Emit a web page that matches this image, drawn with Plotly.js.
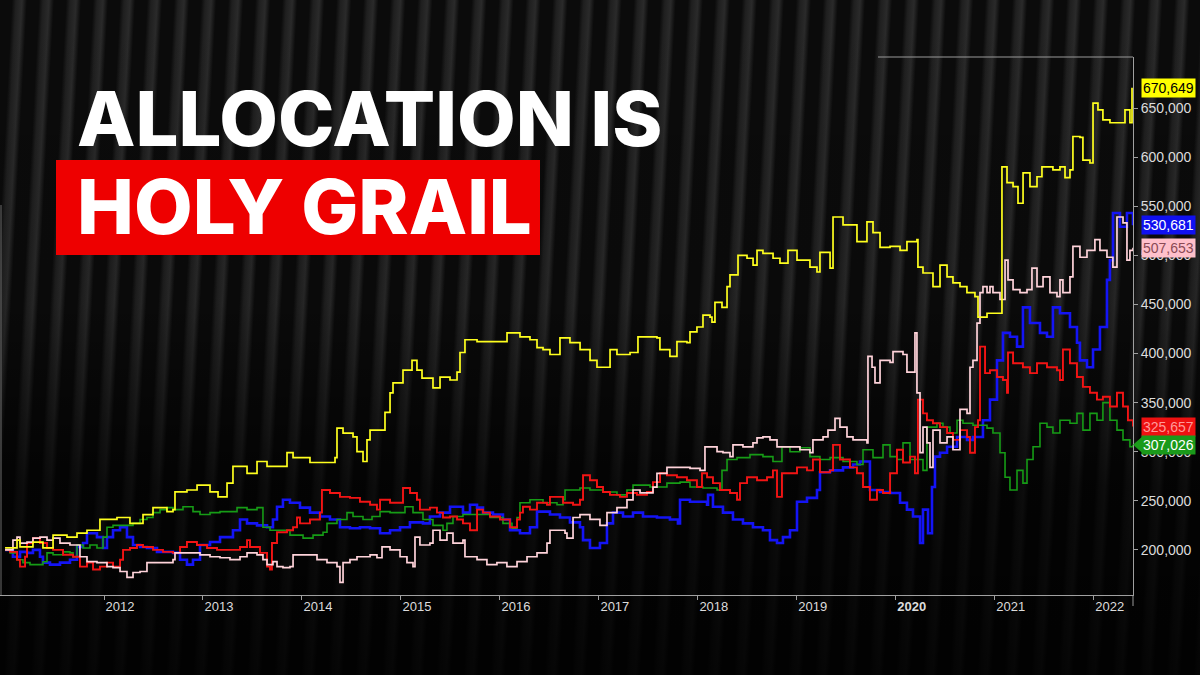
<!DOCTYPE html>
<html>
<head>
<meta charset="utf-8">
<script src="https://cdn.plot.ly/plotly-3.0.1.min.js"></script>
<style>
  html, body { margin: 0; padding: 0; background: #080808; }
  #wrap {
    width: 1200px; height: 675px; position: relative; overflow: hidden;
    background:
      linear-gradient(180deg, rgba(0,0,0,0) 0%, rgba(0,0,0,0.1) 45%, rgba(0,0,0,0.7) 72%, rgba(0,0,0,0.85) 100%),
      repeating-linear-gradient(93deg, #0b0b0b 0px, #0b0b0b 12px, #1f1f1f 16px, #2a2a2a 22px, #0b0b0b 27px);
  }
  #chart { width: 1200px; height: 675px; position: absolute; left: 0; top: 0; }
</style>
</head>
<body>
<div id="wrap"><div id="chart"></div></div>
<script>
// ---------- DATA ----------
const yellowYears = [
  2011.000, 2011.121, 2011.151, 2011.282, 2011.383, 2011.485, 2011.626, 2011.727, 2011.828, 2011.959,
  2012.131, 2012.262, 2012.394, 2012.495, 2012.636, 2012.697, 2012.717, 2012.838, 2012.940, 2013.071,
  2013.152, 2013.243, 2013.303, 2013.445, 2013.546, 2013.647, 2013.778, 2013.849, 2013.910, 2014.081,
  2014.283, 2014.334, 2014.354, 2014.415, 2014.516, 2014.556, 2014.617, 2014.657, 2014.688, 2014.809,
  2014.839, 2014.890, 2014.920, 2015.021, 2015.112, 2015.162, 2015.213, 2015.324, 2015.395, 2015.496,
  2015.567, 2015.597, 2015.647, 2015.769, 2015.900, 2016.072, 2016.203, 2016.304, 2016.375, 2016.436,
  2016.506, 2016.607, 2016.708, 2016.810, 2016.911, 2016.981, 2017.113, 2017.183, 2017.315, 2017.395,
  2017.587, 2017.617, 2017.718, 2017.789, 2017.890, 2017.921, 2017.991, 2018.052, 2018.123, 2018.143,
  2018.173, 2018.244, 2018.295, 2018.325, 2018.396, 2018.406, 2018.497, 2018.558, 2018.598, 2018.658,
  2018.760, 2018.830, 2018.911, 2019.002, 2019.133, 2019.204, 2019.234, 2019.336, 2019.366, 2019.467,
  2019.568, 2019.608, 2019.709, 2019.770, 2019.841, 2019.942, 2020.043, 2020.113, 2020.214, 2020.224,
  2020.275, 2020.376, 2020.447, 2020.518, 2020.578, 2020.649, 2020.719, 2020.800, 2020.831, 2020.922,
  2021.053, 2021.073, 2021.124, 2021.185, 2021.235, 2021.286, 2021.356, 2021.427, 2021.477, 2021.588,
  2021.659, 2021.710, 2021.760, 2021.790, 2021.861, 2021.891, 2021.962, 2021.993, 2022.043, 2022.093,
  2022.164, 2022.296, 2022.316, 2022.366, 2022.387
];
const yellowValues = [
  202000, 210000, 203000, 208000, 202000, 215000, 213000, 217000, 220000, 231000,
  233000, 227000, 236000, 243000, 239000, 241000, 259000, 261000, 266000, 259000,
  254000, 268000, 285000, 278000, 290000, 285000, 285000, 299000, 294000, 289000,
  289000, 294000, 324000, 319000, 315000, 300000, 290000, 312000, 322000, 322000,
  340000, 360000, 370000, 383000, 393000, 383000, 375000, 365000, 376000, 373000,
  381000, 401000, 414000, 412000, 412000, 421000, 417000, 414000, 406000, 404000,
  399000, 416000, 411000, 404000, 393000, 386000, 404000, 399000, 401000, 417000,
  416000, 404000, 397000, 412000, 411000, 422000, 427000, 439000, 437000, 432000,
  452000, 447000, 468000, 480000, 480000, 500000, 497000, 490000, 505000, 502000,
  497000, 492000, 505000, 495000, 488000, 483000, 503000, 487000, 539000, 531000,
  531000, 514000, 534000, 523000, 508000, 509000, 505000, 514000, 516000, 488000,
  482000, 468000, 490000, 478000, 472000, 468000, 462000, 458000, 437000, 441000,
  441000, 590000, 574000, 570000, 553000, 584000, 570000, 580000, 590000, 587000,
  590000, 579000, 587000, 621000, 620000, 597000, 594000, 655000, 648000, 638000,
  635000, 635000, 648000, 635000, 670649
];

const greenYears = [
  2011.000, 2011.050, 2011.121, 2011.181, 2011.252, 2011.323, 2011.383, 2011.424, 2011.485, 2011.586,
  2011.656, 2011.687, 2011.727, 2011.788, 2011.858, 2011.929, 2011.990, 2012.030, 2012.091, 2012.232,
  2012.293, 2012.364, 2012.434, 2012.495, 2012.566, 2012.636, 2012.697, 2012.798, 2012.899, 2012.970,
  2013.071, 2013.172, 2013.273, 2013.344, 2013.445, 2013.546, 2013.606, 2013.677, 2013.778, 2013.879,
  2014.011, 2014.112, 2014.213, 2014.253, 2014.354, 2014.455, 2014.516, 2014.617, 2014.708, 2014.789,
  2014.890, 2014.991, 2015.041, 2015.122, 2015.223, 2015.324, 2015.425, 2015.465, 2015.526, 2015.627,
  2015.769, 2015.900, 2016.031, 2016.122, 2016.173, 2016.203, 2016.304, 2016.436, 2016.577, 2016.638,
  2016.658, 2016.809, 2016.910, 2017.042, 2017.183, 2017.284, 2017.345, 2017.517, 2017.688, 2017.820,
  2017.921, 2018.052, 2018.194, 2018.244, 2018.295, 2018.396, 2018.527, 2018.658, 2018.759, 2018.850,
  2018.931, 2019.032, 2019.133, 2019.234, 2019.336, 2019.467, 2019.608, 2019.669, 2019.770, 2019.871,
  2019.942, 2020.012, 2020.073, 2020.144, 2020.245, 2020.275, 2020.315, 2020.416, 2020.477, 2020.548,
  2020.619, 2020.679, 2020.780, 2020.922, 2020.982, 2021.053, 2021.104, 2021.154, 2021.225, 2021.285,
  2021.326, 2021.387, 2021.457, 2021.528, 2021.588, 2021.659, 2021.760, 2021.831, 2021.891, 2021.962,
  2022.033, 2022.093, 2022.164, 2022.235, 2022.296, 2022.366, 2022.397
];
const greenValues = [
  200000, 197000, 190000, 187000, 185000, 185000, 188000, 197000, 195000, 198000,
  197000, 193000, 205000, 202000, 205000, 202000, 213000, 223000, 225000, 225000,
  227000, 231000, 233000, 238000, 241000, 243000, 241000, 244000, 239000, 236000,
  238000, 239000, 239000, 243000, 241000, 243000, 223000, 220000, 220000, 215000,
  212000, 215000, 218000, 227000, 231000, 238000, 234000, 231000, 234000, 239000,
  238000, 238000, 244000, 238000, 231000, 225000, 220000, 227000, 234000, 236000,
  236000, 233000, 227000, 222000, 233000, 248000, 251000, 248000, 246000, 251000,
  261000, 263000, 261000, 259000, 256000, 261000, 266000, 264000, 268000, 269000,
  264000, 263000, 261000, 281000, 292000, 294000, 297000, 295000, 290000, 305000,
  300000, 304000, 295000, 292000, 294000, 290000, 287000, 302000, 294000, 307000,
  295000, 292000, 309000, 292000, 292000, 281000, 325000, 329000, 325000, 319000,
  332000, 329000, 327000, 324000, 319000, 299000, 274000, 261000, 281000, 268000,
  292000, 305000, 329000, 325000, 319000, 332000, 329000, 339000, 322000, 339000,
  332000, 350000, 332000, 322000, 312000, 305000, 307026
];

const blueYears = [
  2011.000, 2011.080, 2011.151, 2011.222, 2011.282, 2011.353, 2011.383, 2011.454, 2011.555, 2011.656,
  2011.727, 2011.788, 2011.828, 2011.929, 2011.990, 2012.030, 2012.091, 2012.162, 2012.232, 2012.293,
  2012.364, 2012.434, 2012.535, 2012.697, 2012.768, 2012.838, 2012.899, 2012.970, 2013.071, 2013.172,
  2013.303, 2013.374, 2013.445, 2013.546, 2013.647, 2013.707, 2013.748, 2013.808, 2013.879, 2013.980,
  2014.081, 2014.182, 2014.283, 2014.384, 2014.485, 2014.586, 2014.688, 2014.789, 2014.890, 2014.991,
  2015.091, 2015.223, 2015.293, 2015.395, 2015.496, 2015.627, 2015.698, 2015.769, 2015.829, 2015.930,
  2016.031, 2016.102, 2016.203, 2016.304, 2016.375, 2016.506, 2016.607, 2016.708, 2016.809, 2016.840,
  2016.910, 2017.011, 2017.082, 2017.143, 2017.244, 2017.345, 2017.446, 2017.587, 2017.718, 2017.799,
  2017.820, 2017.921, 2018.093, 2018.103, 2018.153, 2018.254, 2018.355, 2018.456, 2018.557, 2018.658,
  2018.729, 2018.800, 2018.860, 2018.931, 2019.002, 2019.103, 2019.204, 2019.234, 2019.336, 2019.467,
  2019.568, 2019.638, 2019.739, 2019.841, 2019.942, 2020.043, 2020.113, 2020.174, 2020.245, 2020.275,
  2020.326, 2020.366, 2020.396, 2020.447, 2020.518, 2020.619, 2020.720, 2020.780, 2020.881, 2020.952,
  2021.023, 2021.083, 2021.154, 2021.225, 2021.285, 2021.356, 2021.457, 2021.528, 2021.588, 2021.659,
  2021.760, 2021.831, 2021.861, 2021.932, 2021.993, 2022.063, 2022.134, 2022.164, 2022.195, 2022.265,
  2022.336, 2022.397
];
const blueValues = [
  200000, 193000, 198000, 197000, 200000, 193000, 187000, 185000, 187000, 190000,
  203000, 207000, 217000, 213000, 202000, 213000, 220000, 223000, 213000, 205000,
  203000, 202000, 198000, 197000, 190000, 185000, 190000, 205000, 208000, 213000,
  220000, 231000, 227000, 225000, 223000, 231000, 244000, 251000, 248000, 243000,
  238000, 234000, 231000, 223000, 222000, 223000, 222000, 217000, 220000, 223000,
  228000, 227000, 234000, 238000, 244000, 238000, 246000, 243000, 238000, 236000,
  231000, 220000, 217000, 223000, 239000, 236000, 233000, 228000, 223000, 210000,
  202000, 207000, 227000, 238000, 234000, 238000, 234000, 233000, 231000, 227000,
  251000, 249000, 246000, 256000, 244000, 238000, 231000, 227000, 223000, 220000,
  210000, 207000, 213000, 220000, 249000, 253000, 261000, 279000, 281000, 284000,
  287000, 290000, 261000, 259000, 258000, 248000, 241000, 234000, 207000, 241000,
  217000, 264000, 295000, 299000, 305000, 315000, 312000, 315000, 332000, 353000,
  393000, 421000, 417000, 407000, 447000, 431000, 421000, 417000, 447000, 441000,
  427000, 411000, 393000, 386000, 404000, 427000, 475000, 495000, 543000, 529000,
  543000, 530681
];

const redYears = [
  2011.000, 2011.050, 2011.121, 2011.151, 2011.202, 2011.222, 2011.282, 2011.353, 2011.424, 2011.485,
  2011.586, 2011.687, 2011.757, 2011.828, 2011.889, 2011.959, 2012.030, 2012.091, 2012.162, 2012.192,
  2012.262, 2012.333, 2012.394, 2012.495, 2012.596, 2012.697, 2012.768, 2012.838, 2012.939, 2013.041,
  2013.142, 2013.374, 2013.445, 2013.475, 2013.576, 2013.647, 2013.677, 2013.697, 2013.748, 2013.849,
  2013.910, 2013.950, 2013.980, 2014.081, 2014.182, 2014.202, 2014.283, 2014.384, 2014.485, 2014.586,
  2014.688, 2014.758, 2014.789, 2014.890, 2014.991, 2015.021, 2015.092, 2015.162, 2015.192, 2015.293,
  2015.364, 2015.425, 2015.496, 2015.567, 2015.627, 2015.698, 2015.769, 2015.829, 2015.900, 2016.001,
  2016.102, 2016.173, 2016.203, 2016.233, 2016.304, 2016.375, 2016.476, 2016.506, 2016.577, 2016.638,
  2016.739, 2016.809, 2016.840, 2016.910, 2016.981, 2017.042, 2017.112, 2017.213, 2017.284, 2017.385,
  2017.486, 2017.547, 2017.618, 2017.688, 2017.789, 2017.890, 2017.991, 2018.042, 2018.093, 2018.153,
  2018.224, 2018.325, 2018.396, 2018.426, 2018.497, 2018.598, 2018.699, 2018.759, 2018.800, 2018.850,
  2018.931, 2019.002, 2019.103, 2019.163, 2019.234, 2019.336, 2019.366, 2019.436, 2019.537, 2019.608,
  2019.669, 2019.739, 2019.810, 2019.871, 2019.942, 2020.012, 2020.073, 2020.144, 2020.194, 2020.224,
  2020.275, 2020.315, 2020.376, 2020.447, 2020.518, 2020.578, 2020.649, 2020.720, 2020.750, 2020.800,
  2020.831, 2020.851, 2020.902, 2020.952, 2021.023, 2021.083, 2021.124, 2021.134, 2021.185, 2021.285,
  2021.356, 2021.427, 2021.528, 2021.629, 2021.659, 2021.689, 2021.760, 2021.831, 2021.891, 2021.962,
  2022.033, 2022.093, 2022.164, 2022.235, 2022.296, 2022.346, 2022.397
];
const redValues = [
  200000, 198000, 190000, 183000, 193000, 207000, 212000, 207000, 202000, 200000,
  195000, 193000, 183000, 187000, 180000, 183000, 187000, 183000, 190000, 200000,
  202000, 205000, 203000, 200000, 198000, 197000, 203000, 208000, 205000, 202000,
  200000, 203000, 210000, 203000, 197000, 183000, 180000, 207000, 218000, 220000,
  223000, 233000, 227000, 231000, 238000, 261000, 258000, 254000, 253000, 249000,
  246000, 241000, 251000, 248000, 248000, 263000, 258000, 251000, 241000, 243000,
  238000, 233000, 234000, 231000, 227000, 220000, 241000, 238000, 234000, 231000,
  223000, 231000, 238000, 244000, 241000, 248000, 246000, 254000, 254000, 248000,
  246000, 251000, 276000, 271000, 264000, 259000, 256000, 254000, 258000, 256000,
  259000, 269000, 278000, 276000, 274000, 271000, 264000, 278000, 274000, 268000,
  261000, 258000, 251000, 268000, 274000, 271000, 274000, 281000, 254000, 278000,
  278000, 284000, 281000, 292000, 279000, 281000, 307000, 292000, 284000, 278000,
  264000, 251000, 261000, 258000, 278000, 302000, 289000, 295000, 278000, 353000,
  339000, 332000, 329000, 325000, 319000, 312000, 322000, 315000, 299000, 325000,
  332000, 407000, 380000, 383000, 376000, 373000, 360000, 401000, 390000, 386000,
  380000, 390000, 386000, 383000, 373000, 404000, 390000, 376000, 366000, 360000,
  353000, 356000, 346000, 360000, 346000, 332000, 325657
];

const pinkYears = [
  2011.000, 2011.080, 2011.121, 2011.151, 2011.222, 2011.282, 2011.353, 2011.424, 2011.485, 2011.555,
  2011.656, 2011.757, 2011.828, 2011.929, 2012.030, 2012.091, 2012.162, 2012.232, 2012.293, 2012.364,
  2012.434, 2012.636, 2012.697, 2012.717, 2012.899, 2012.970, 2013.071, 2013.172, 2013.273, 2013.374,
  2013.445, 2013.546, 2013.606, 2013.647, 2013.707, 2013.748, 2013.808, 2013.879, 2013.910, 2014.011,
  2014.152, 2014.253, 2014.354, 2014.384, 2014.415, 2014.485, 2014.556, 2014.688, 2014.758, 2014.809,
  2014.890, 2014.991, 2015.061, 2015.122, 2015.142, 2015.192, 2015.293, 2015.324, 2015.395, 2015.465,
  2015.526, 2015.627, 2015.647, 2015.769, 2015.869, 2015.970, 2016.071, 2016.173, 2016.274, 2016.375,
  2016.476, 2016.506, 2016.577, 2016.658, 2016.678, 2016.739, 2016.809, 2016.910, 2017.011, 2017.082,
  2017.183, 2017.284, 2017.345, 2017.416, 2017.547, 2017.587, 2017.688, 2017.820, 2017.921, 2018.022,
  2018.072, 2018.194, 2018.254, 2018.325, 2018.355, 2018.456, 2018.557, 2018.598, 2018.658, 2018.729,
  2018.800, 2018.961, 2019.032, 2019.133, 2019.163, 2019.265, 2019.315, 2019.386, 2019.436, 2019.507,
  2019.568, 2019.638, 2019.709, 2019.719, 2019.760, 2019.790, 2019.841, 2019.942, 2019.972, 2020.073,
  2020.113, 2020.174, 2020.194, 2020.214, 2020.245, 2020.275, 2020.315, 2020.346, 2020.376, 2020.447,
  2020.518, 2020.578, 2020.649, 2020.720, 2020.750, 2020.780, 2020.821, 2020.851, 2020.881, 2020.922,
  2020.952, 2020.982, 2021.053, 2021.104, 2021.134, 2021.185, 2021.255, 2021.326, 2021.376, 2021.427,
  2021.488, 2021.558, 2021.629, 2021.659, 2021.689, 2021.760, 2021.790, 2021.861, 2021.932, 2022.012,
  2022.063, 2022.134, 2022.194, 2022.235, 2022.296, 2022.336, 2022.366, 2022.397
];
const pinkValues = [
  200000, 210000, 213000, 207000, 208000, 212000, 213000, 210000, 212000, 207000,
  205000, 193000, 188000, 187000, 183000, 182000, 178000, 172000, 177000, 178000,
  187000, 187000, 190000, 197000, 197000, 195000, 193000, 192000, 190000, 193000,
  197000, 195000, 190000, 185000, 188000, 183000, 182000, 183000, 195000, 195000,
  190000, 187000, 183000, 167000, 187000, 190000, 193000, 195000, 192000, 203000,
  200000, 193000, 187000, 183000, 213000, 205000, 207000, 220000, 210000, 217000,
  207000, 210000, 193000, 190000, 185000, 187000, 183000, 188000, 193000, 197000,
  207000, 220000, 220000, 217000, 212000, 233000, 236000, 231000, 225000, 238000,
  243000, 251000, 261000, 258000, 264000, 278000, 284000, 284000, 283000, 281000,
  305000, 300000, 299000, 295000, 307000, 305000, 309000, 314000, 315000, 312000,
  305000, 305000, 302000, 299000, 312000, 315000, 322000, 334000, 325000, 315000,
  312000, 312000, 309000, 397000, 386000, 370000, 393000, 391000, 402000, 399000,
  381000, 381000, 421000, 360000, 299000, 325000, 309000, 284000, 322000, 309000,
  315000, 302000, 343000, 339000, 386000, 393000, 431000, 462000, 468000, 462000,
  468000, 462000, 455000, 495000, 475000, 465000, 462000, 465000, 487000, 468000,
  478000, 462000, 458000, 475000, 462000, 478000, 509000, 498000, 505000, 516000,
  505000, 498000, 488000, 539000, 533000, 495000, 505000, 507653
];

const xTickYears = [2012, 2013, 2014, 2015, 2016, 2017, 2018, 2019, 2020, 2021, 2022];
const xTickLabels = ['2012', '2013', '2014', '2015', '2016', '2017', '2018', '2019', '<b>2020</b>', '2021', '2022'];
const yTickValues = [200000, 250000, 300000, 350000, 400000, 450000, 500000, 550000, 600000, 650000];

const lastLabels = [
  { value: 670649, text: '670,649', bg: '#ffff00', fg: '#000000' },
  { value: 530681, text: '530,681', bg: '#1010f0', fg: '#ffffff' },
  { value: 507653, text: '507,653', bg: '#ffc0cb', fg: '#8a4a55' },
  { value: 325657, text: '325,657', bg: '#ee1111', fg: '#ff9a9a' },
  { value: 307026, text: '307,026', bg: '#1a9a1a', fg: '#ffffff' }
];

const titleLine1 = 'ALLOCATION IS';
const titleLine2 = 'HOLY GRAIL';

// ---------- CHART ----------
function stepTrace(x, y, color, width) {
  return { x: x, y: y, type: 'scatter', mode: 'lines',
           line: { color: color, width: width, shape: 'hv' }, hoverinfo: 'skip' };
}

const traces = [
  stepTrace(blueYears, blueValues, '#1414f5', 2.6),
  stepTrace(greenYears, greenValues, '#169c16', 1.6),
  stepTrace(redYears, redValues, '#f21414', 1.9),
  stepTrace(pinkYears, pinkValues, '#ffd3da', 1.7),
  stepTrace(yellowYears, yellowValues, '#ffff1e', 1.7)
];

const PW = 1133, PH = 538, PT = 57;           // plot area geometry (px)
const px = v => v / PW;                        // px -> paper x
const py = v => (PT + PH - v) / PH;            // px (from top) -> paper y

const annotations = [
  { xref: 'paper', yref: 'paper', x: px(75), y: py(118), xanchor: 'left', yanchor: 'middle',
    text: titleLine1, showarrow: false,
    font: { family: 'Inter, "Open Sans", sans-serif', size: 76, color: '#ffffff', weight: 800 } },
  { xref: 'paper', yref: 'paper', x: px(75), y: py(206), xanchor: 'left', yanchor: 'middle',
    text: titleLine2, showarrow: false,
    font: { family: 'Inter, "Open Sans", sans-serif', size: 76, color: '#ffffff', weight: 800 } }
];
lastLabels.forEach(l => annotations.push({
  xref: 'paper', yref: 'y', x: px(1141), y: l.value, xanchor: 'left', yanchor: 'middle',
  text: l.text, showarrow: false, bgcolor: l.bg, borderpad: 1,
  font: { family: '"Liberation Sans", Arial, sans-serif', size: 14, color: l.fg }
}));

const green = lastLabels[4];
const shapes = [
  { type: 'rect', xref: 'paper', yref: 'paper', x0: px(56), x1: px(540), y0: py(255), y1: py(160),
    fillcolor: '#ee0000', line: { width: 0 }, layer: 'below' },
  { type: 'line', xref: 'paper', yref: 'paper', x0: px(878), x1: 1, y0: 1, y1: 1,
    line: { color: '#9a9a9a', width: 1 } },
  { type: 'line', xref: 'paper', yref: 'paper', x0: 1, x1: 1, y0: py(606), y1: 0,
    line: { color: '#9a9a9a', width: 1 } },
  { type: 'line', xref: 'paper', yref: 'paper', x0: px(1), x1: px(1), y0: py(595), y1: py(205),
    line: { color: '#6a6a6a', width: 1 } },
  { type: 'path', xref: 'paper', yref: 'y',
    path: 'M ' + px(1133) + ',' + green.value + ' L ' + px(1142) + ',' + (green.value + 8100) +
          ' L ' + px(1142) + ',' + (green.value - 8100) + ' Z',
    fillcolor: green.bg, line: { width: 0 } }
];

const layout = {
  width: 1200, height: 675,
  margin: { l: 0, r: 1200 - PW, t: PT, b: 675 - PT - PH, pad: 0 },
  paper_bgcolor: 'rgba(0,0,0,0)', plot_bgcolor: 'rgba(0,0,0,0)',
  showlegend: false, hovermode: false,
  xaxis: {
    type: 'linear', range: [2010.949, 2022.397], fixedrange: true,
    showgrid: false, zeroline: false, showline: true, linecolor: '#a0a0a0', linewidth: 1,
    tickmode: 'array', tickvals: xTickYears, ticktext: xTickLabels,
    ticks: 'outside', ticklen: 4, tickcolor: '#a0a0a0', tickwidth: 1,
    ticklabelshift: 16, ticklabelstandoff: -5,
    tickfont: { family: '"Liberation Sans", Arial, sans-serif', size: 13, color: '#dcdcdc' }
  },
  yaxis: {
    side: 'right', range: [154073, 701935], fixedrange: true,
    showgrid: false, zeroline: false, showline: true, linecolor: '#a0a0a0', linewidth: 1,
    tickmode: 'array', tickvals: yTickValues, tickformat: ',',
    ticks: 'outside', ticklen: 4, tickcolor: '#a0a0a0', tickwidth: 1,
    tickfont: { family: '"Liberation Sans", Arial, sans-serif', size: 14, color: '#dcdcdc' }
  },
  annotations: annotations,
  shapes: shapes
};

Plotly.newPlot('chart', traces, layout, { staticPlot: true, displayModeBar: false });
</script>
</body>
</html>
